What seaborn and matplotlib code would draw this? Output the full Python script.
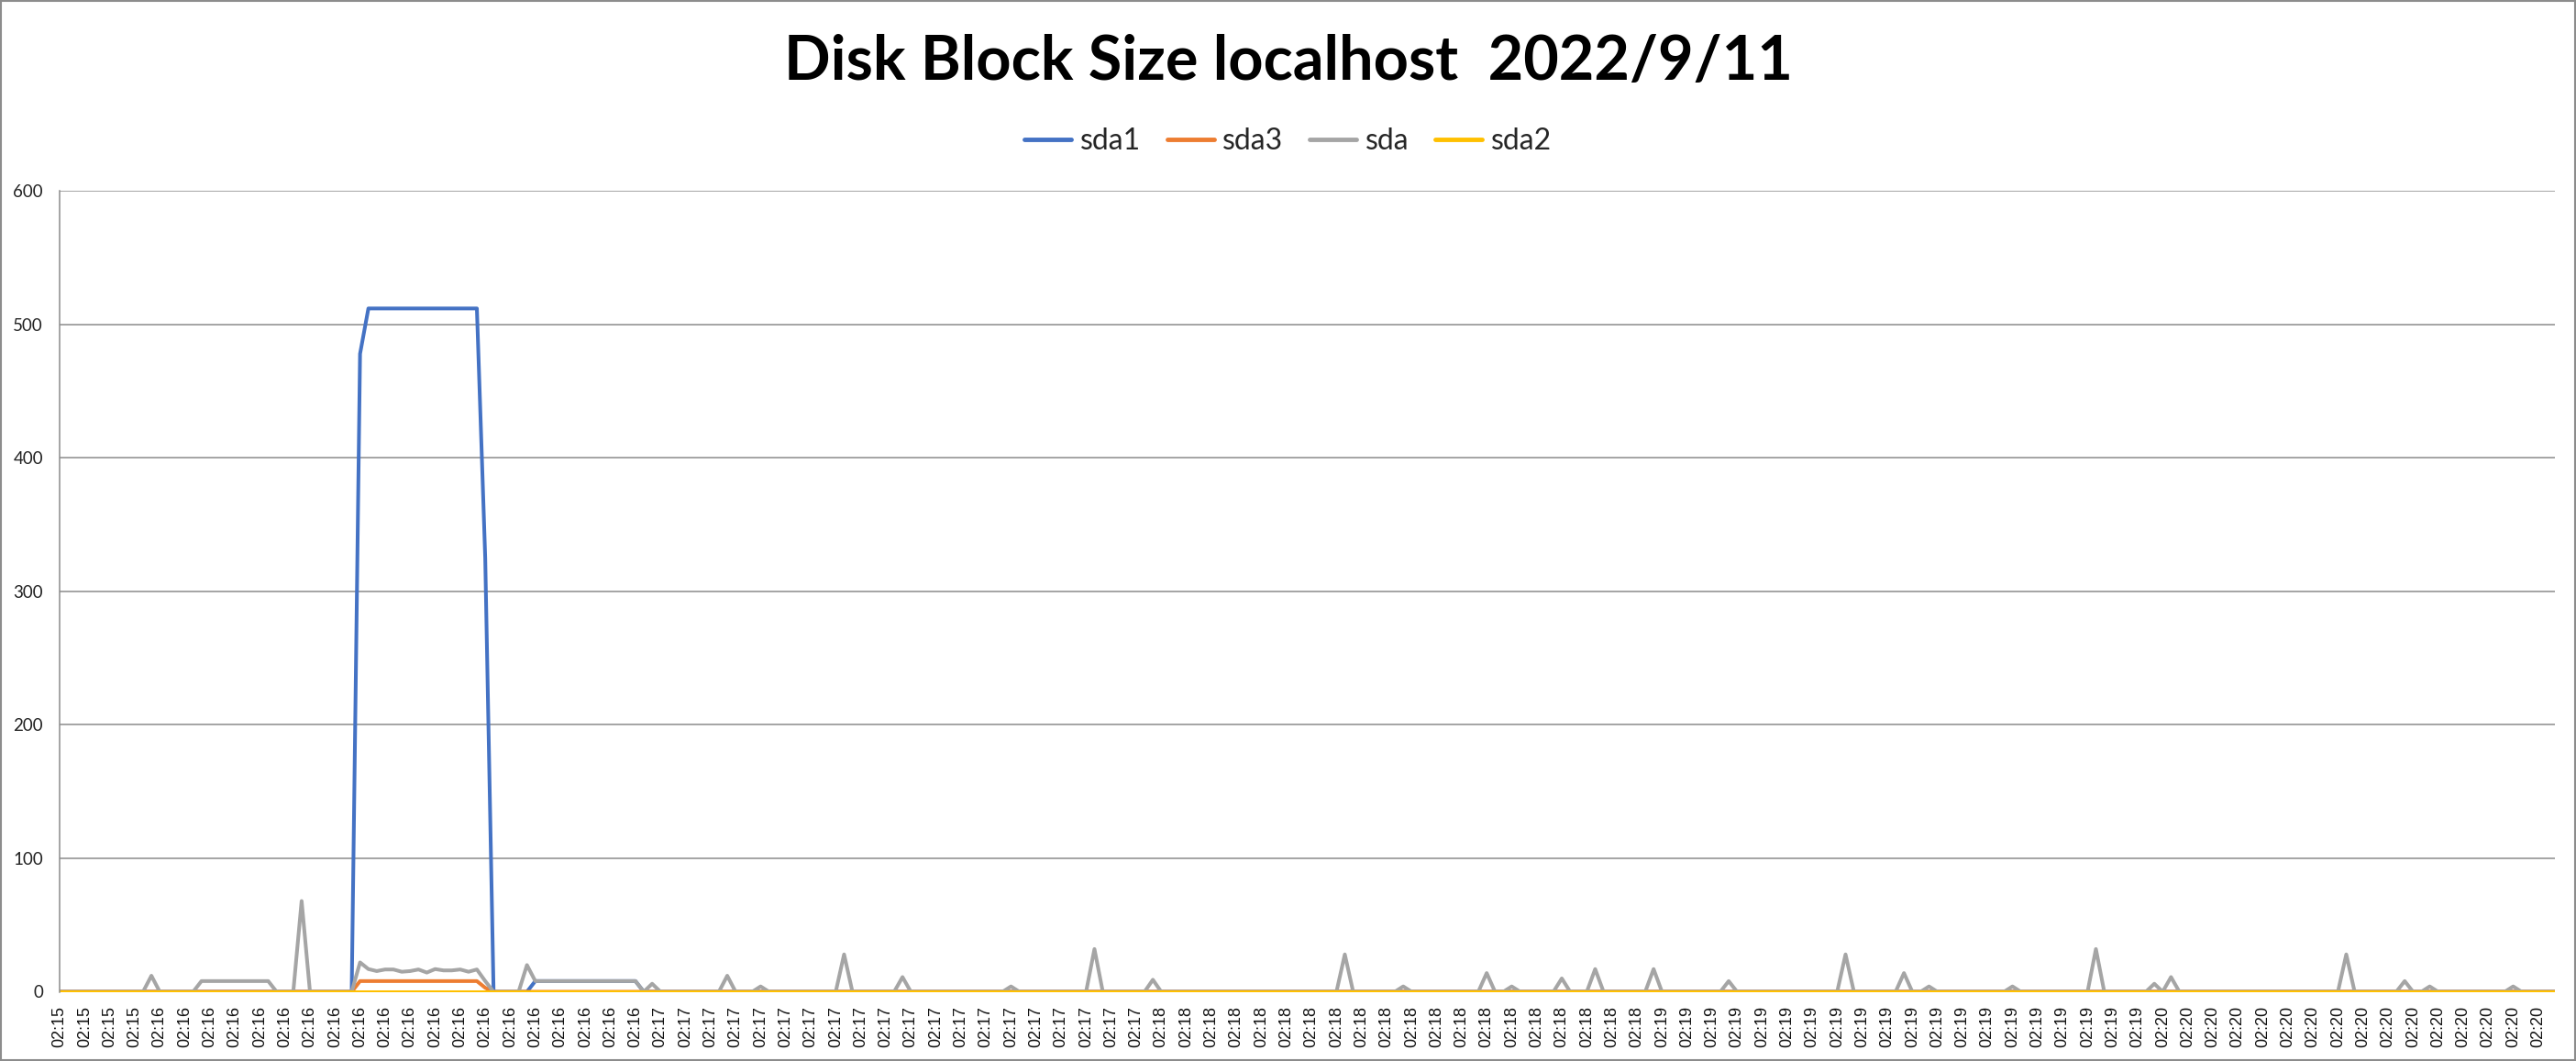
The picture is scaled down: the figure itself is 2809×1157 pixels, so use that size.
import pandas as pd
import matplotlib
matplotlib.use("Agg")
import matplotlib.pyplot as plt
import seaborn as sns

# -----------------------------
# data (one value per sample, 300 samples)
# -----------------------------
sda1 = [
    0, 0, 0, 0, 0, 0, 0, 0, 0, 0, 0, 0, 0, 0, 0, 0, 0, 0, 0, 0,
    0, 0, 0, 0, 0, 0, 0, 0, 0, 0, 0, 0, 0, 0, 0, 0, 478, 512, 512, 512,
    512, 512, 512, 512, 512, 512, 512, 512, 512, 512, 512, 325, 0, 0, 0, 0, 0, 8, 8, 8,
    8, 8, 8, 8, 8, 8, 8, 8, 8, 8, 0, 0, 0, 0, 0, 0, 0, 0, 0, 0,
    0, 0, 0, 0, 0, 0, 0, 0, 0, 0, 0, 0, 0, 0, 0, 0, 0, 0, 0, 0,
    0, 0, 0, 0, 0, 0, 0, 0, 0, 0, 0, 0, 0, 0, 0, 0, 0, 0, 0, 0,
    0, 0, 0, 0, 0, 0, 0, 0, 0, 0, 0, 0, 0, 0, 0, 0, 0, 0, 0, 0,
    0, 0, 0, 0, 0, 0, 0, 0, 0, 0, 0, 0, 0, 0, 0, 0, 0, 0, 0, 0,
    0, 0, 0, 0, 0, 0, 0, 0, 0, 0, 0, 0, 0, 0, 0, 0, 0, 0, 0, 0,
    0, 0, 0, 0, 0, 0, 0, 0, 0, 0, 0, 0, 0, 0, 0, 0, 0, 0, 0, 0,
    0, 0, 0, 0, 0, 0, 0, 0, 0, 0, 0, 0, 0, 0, 0, 0, 0, 0, 0, 0,
    0, 0, 0, 0, 0, 0, 0, 0, 0, 0, 0, 0, 0, 0, 0, 0, 0, 0, 0, 0,
    0, 0, 0, 0, 0, 0, 0, 0, 0, 0, 0, 0, 0, 0, 0, 0, 0, 0, 0, 0,
    0, 0, 0, 0, 0, 0, 0, 0, 0, 0, 0, 0, 0, 0, 0, 0, 0, 0, 0, 0,
    0, 0, 0, 0, 0, 0, 0, 0, 0, 0, 0, 0, 0, 0, 0, 0, 0, 0, 0, 0,
]

sda3 = [
    0, 0, 0, 0, 0, 0, 0, 0, 0, 0, 0, 0, 0, 0, 0, 0, 0, 0, 0, 0,
    0, 0, 0, 0, 0, 0, 0, 0, 0, 0, 0, 0, 0, 0, 0, 0, 8, 8, 8, 8,
    8, 8, 8, 8, 8, 8, 8, 8, 8, 8, 8, 3, 0, 0, 0, 0, 0, 0, 0, 0,
    0, 0, 0, 0, 0, 0, 0, 0, 0, 0, 0, 0, 0, 0, 0, 0, 0, 0, 0, 0,
    0, 0, 0, 0, 0, 0, 0, 0, 0, 0, 0, 0, 0, 0, 0, 0, 0, 0, 0, 0,
    0, 0, 0, 0, 0, 0, 0, 0, 0, 0, 0, 0, 0, 0, 0, 0, 0, 0, 0, 0,
    0, 0, 0, 0, 0, 0, 0, 0, 0, 0, 0, 0, 0, 0, 0, 0, 0, 0, 0, 0,
    0, 0, 0, 0, 0, 0, 0, 0, 0, 0, 0, 0, 0, 0, 0, 0, 0, 0, 0, 0,
    0, 0, 0, 0, 0, 0, 0, 0, 0, 0, 0, 0, 0, 0, 0, 0, 0, 0, 0, 0,
    0, 0, 0, 0, 0, 0, 0, 0, 0, 0, 0, 0, 0, 0, 0, 0, 0, 0, 0, 0,
    0, 0, 0, 0, 0, 0, 0, 0, 0, 0, 0, 0, 0, 0, 0, 0, 0, 0, 0, 0,
    0, 0, 0, 0, 0, 0, 0, 0, 0, 0, 0, 0, 0, 0, 0, 0, 0, 0, 0, 0,
    0, 0, 0, 0, 0, 0, 0, 0, 0, 0, 0, 0, 0, 0, 0, 0, 0, 0, 0, 0,
    0, 0, 0, 0, 0, 0, 0, 0, 0, 0, 0, 0, 0, 0, 0, 0, 0, 0, 0, 0,
    0, 0, 0, 0, 0, 0, 0, 0, 0, 0, 0, 0, 0, 0, 0, 0, 0, 0, 0, 0,
]

sda = [
    0, 0, 0, 0, 0, 0, 0, 0, 0, 0, 0, 12, 0, 0, 0, 0, 0, 8, 8, 8,
    8, 8, 8, 8, 8, 8, 0, 0, 0, 68, 0, 0, 0, 0, 0, 0, 22, 17, 15.5, 16.7,
    16.7, 15, 15.5, 16.7, 14.4, 17, 16, 16, 16.7, 15, 16.7, 8, 0, 0, 0, 0, 20, 8, 8, 8,
    8, 8, 8, 8, 8, 8, 8, 8, 8, 8, 0, 6, 0, 0, 0, 0, 0, 0, 0, 0,
    12, 0, 0, 0, 4, 0, 0, 0, 0, 0, 0, 0, 0, 0, 28, 0, 0, 0, 0, 0,
    0, 11, 0, 0, 0, 0, 0, 0, 0, 0, 0, 0, 0, 0, 4, 0, 0, 0, 0, 0,
    0, 0, 0, 0, 32, 0, 0, 0, 0, 0, 0, 9, 0, 0, 0, 0, 0, 0, 0, 0,
    0, 0, 0, 0, 0, 0, 0, 0, 0, 0, 0, 0, 0, 0, 28, 0, 0, 0, 0, 0,
    0, 4, 0, 0, 0, 0, 0, 0, 0, 0, 0, 14, 0, 0, 4, 0, 0, 0, 0, 0,
    10, 0, 0, 0, 17, 0, 0, 0, 0, 0, 0, 17, 0, 0, 0, 0, 0, 0, 0, 0,
    8, 0, 0, 0, 0, 0, 0, 0, 0, 0, 0, 0, 0, 0, 28, 0, 0, 0, 0, 0,
    0, 14, 0, 0, 4, 0, 0, 0, 0, 0, 0, 0, 0, 0, 4, 0, 0, 0, 0, 0,
    0, 0, 0, 0, 32, 0, 0, 0, 0, 0, 0, 6, 0, 11, 0, 0, 0, 0, 0, 0,
    0, 0, 0, 0, 0, 0, 0, 0, 0, 0, 0, 0, 0, 0, 28, 0, 0, 0, 0, 0,
    0, 8, 0, 0, 4, 0, 0, 0, 0, 0, 0, 0, 0, 0, 4, 0, 0, 0, 0, 0,
]

sda2 = [
    0, 0, 0, 0, 0, 0, 0, 0, 0, 0, 0, 0, 0, 0, 0, 0, 0, 0, 0, 0,
    0, 0, 0, 0, 0, 0, 0, 0, 0, 0, 0, 0, 0, 0, 0, 0, 0, 0, 0, 0,
    0, 0, 0, 0, 0, 0, 0, 0, 0, 0, 0, 0, 0, 0, 0, 0, 0, 0, 0, 0,
    0, 0, 0, 0, 0, 0, 0, 0, 0, 0, 0, 0, 0, 0, 0, 0, 0, 0, 0, 0,
    0, 0, 0, 0, 0, 0, 0, 0, 0, 0, 0, 0, 0, 0, 0, 0, 0, 0, 0, 0,
    0, 0, 0, 0, 0, 0, 0, 0, 0, 0, 0, 0, 0, 0, 0, 0, 0, 0, 0, 0,
    0, 0, 0, 0, 0, 0, 0, 0, 0, 0, 0, 0, 0, 0, 0, 0, 0, 0, 0, 0,
    0, 0, 0, 0, 0, 0, 0, 0, 0, 0, 0, 0, 0, 0, 0, 0, 0, 0, 0, 0,
    0, 0, 0, 0, 0, 0, 0, 0, 0, 0, 0, 0, 0, 0, 0, 0, 0, 0, 0, 0,
    0, 0, 0, 0, 0, 0, 0, 0, 0, 0, 0, 0, 0, 0, 0, 0, 0, 0, 0, 0,
    0, 0, 0, 0, 0, 0, 0, 0, 0, 0, 0, 0, 0, 0, 0, 0, 0, 0, 0, 0,
    0, 0, 0, 0, 0, 0, 0, 0, 0, 0, 0, 0, 0, 0, 0, 0, 0, 0, 0, 0,
    0, 0, 0, 0, 0, 0, 0, 0, 0, 0, 0, 0, 0, 0, 0, 0, 0, 0, 0, 0,
    0, 0, 0, 0, 0, 0, 0, 0, 0, 0, 0, 0, 0, 0, 0, 0, 0, 0, 0, 0,
    0, 0, 0, 0, 0, 0, 0, 0, 0, 0, 0, 0, 0, 0, 0, 0, 0, 0, 0, 0,
]

# every 3rd sample gets a label on the x axis
tick_labels = (["02:15"] * 4 + ["02:16"] * 20 + ["02:17"] * 20
               + ["02:18"] * 20 + ["02:19"] * 20 + ["02:20"] * 16)
label_step = 3

series_order = ["sda1", "sda3", "sda", "sda2"]
colors = ["#4472C4", "#ED7D31", "#A5A5A5", "#FFC000"]
title = "Disk Block Size localhost  2022/9/11"

# -----------------------------
# long-form table for seaborn
# -----------------------------
wide = pd.DataFrame({"sda1": sda1, "sda3": sda3, "sda": sda, "sda2": sda2})
wide["sample"] = range(len(wide))
data = wide.melt(id_vars="sample", var_name="series", value_name="value")

sns.set_theme(style="white")
plt.rcParams["font.family"] = ["Lato", "DejaVu Sans"]

W, H = 2809, 1157
fig = plt.figure(figsize=(W / 100, H / 100), dpi=100)
ax = fig.add_axes([65 / W, 1 - 1081.5 / H, (2786 - 65) / W, (1081.5 - 208.3) / H])

sns.lineplot(data=data, x="sample", y="value", hue="series",
             hue_order=series_order, palette=colors, linewidth=2.9,
             errorbar=None, ax=ax)

# axes styling (Excel look)
ax.set_xlim(0, len(sda) - 1)
ax.set_ylim(0, 600)
ax.set_yticks(range(0, 601, 100))
ax.grid(axis="y", color="#8c8c8c", linewidth=1.1)
ax.set_axisbelow(True)
for side in ["top", "right", "bottom"]:
    ax.spines[side].set_visible(False)
ax.spines["left"].set_color("#8c8c8c")
ax.spines["left"].set_linewidth(1.1)
ax.tick_params(axis="y", length=5, width=1.1, color="#8c8c8c",
               labelsize=13.5, pad=8, labelcolor="#222222")
ax.set_xticks(range(0, len(sda), label_step))
ax.set_xticklabels(tick_labels, rotation=90, family="Liberation Sans",
                   fontsize=13)
ax.tick_params(axis="x", length=0, pad=11, labelcolor="#111111")
ax.set_xlabel("")
ax.set_ylabel("")

# legend on top, under the title
handles, labels = ax.get_legend_handles_labels()
leg = ax.legend(handles, labels, loc="center", bbox_to_anchor=(0.5, 1 - 154 / H),
                bbox_transform=fig.transFigure, ncol=4, frameon=False,
                fontsize=23, handlelength=1.6, handletextpad=0.3,
                columnspacing=0.9)
for line in leg.get_lines():
    line.set_linewidth(3.5)

fig.text(0.5, 1 - 87 / H, title, ha="center", va="baseline",
         fontsize=48, fontweight="bold", color="black")

# thin border round the chart area
fig.patches.append(plt.Rectangle((0.0005, 0.001), 0.999, 0.998,
                                 transform=fig.transFigure, fill=False,
                                 edgecolor="#8c8c8c", linewidth=1.5))

fig.savefig("out.png", dpi=100)
